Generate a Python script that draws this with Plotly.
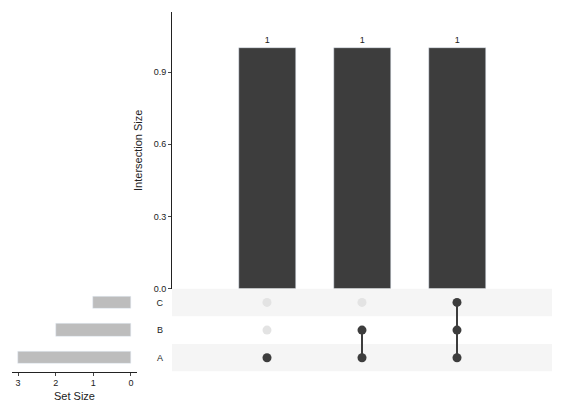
import plotly.graph_objects as go

sets = ["A", "B", "C"]
set_sizes = [3, 2, 1]
intersections = [["A"], ["A", "B"], ["A", "B", "C"]]
inter_sizes = [1, 1, 1]
yticks = [0.0, 0.3, 0.6, 0.9]

W, H = 562, 417
def px(x): return (x - 8) / W
def py(y): return 1 - (y - 6) / H

fig = go.Figure()
cols = list(range(1, len(intersections) + 1))
fig.add_trace(go.Bar(x=cols, y=inter_sizes, marker_color="#3d3d3d", width=0.6,
                     text=[str(v) for v in inter_sizes], textposition="outside",
                     textfont=dict(size=9, color="#222"), cliponaxis=False,
                     xaxis="x", yaxis="y", showlegend=False))
for c, inter in zip(cols, intersections):
    ys = [sets.index(s) for s in sets]
    fig.add_trace(go.Scatter(x=[c]*len(sets), y=ys, mode="markers",
                             marker=dict(size=9, color=["#3d3d3d" if s in inter else "#e3e3e3" for s in sets]),
                             xaxis="x2", yaxis="y2", showlegend=False))
    act = [sets.index(s) for s in inter]
    if len(act) > 1:
        fig.add_trace(go.Scatter(x=[c, c], y=[min(act), max(act)], mode="lines",
                                 line=dict(color="#3d3d3d", width=2),
                                 xaxis="x2", yaxis="y2", showlegend=False))
fig.add_trace(go.Bar(x=set_sizes, y=list(range(len(sets))), orientation="h",
                     marker_color="#bdbdbd", width=0.45, xaxis="x3", yaxis="y3", showlegend=False))

for i in range(len(sets)):
    if i % 2 == 0:
        fig.add_shape(type="rect", xref="x2 domain", x0=0, x1=1, yref="y2", y0=i-0.5, y1=i+0.5,
                      fillcolor="#f5f5f5", line_width=0, layer="below")

fd = [px(172), px(552)]
ax = dict(showgrid=False, zeroline=False)
tf = dict(color="#222", size=9)
fig.update_layout(
    width=W, height=H, margin=dict(l=0, r=0, t=0, b=0), plot_bgcolor="white", paper_bgcolor="white",
    font=dict(family="Liberation Sans", size=9, color="#222"), bargap=0,
    xaxis=dict(domain=fd, range=[0, 4], showticklabels=False, ticks="", **ax),
    yaxis=dict(domain=[py(290), py(10)], range=[0, 1.15], tickvals=yticks, ticktext=["0.0", "0.3", "0.6", "0.9"],
               ticks="outside", ticklen=3, showline=True, linecolor="#222", linewidth=1, tickfont=tf,
               title=dict(text="Intersection Size", font=dict(size=11), standoff=8), anchor="x", **ax),
    xaxis2=dict(domain=fd, range=[0, 4], showticklabels=False, anchor="y2", **ax),
    yaxis2=dict(domain=[py(374), py(290)], range=[-0.5, 2.5], tickvals=[0, 1, 2], ticktext=sets,
                ticks="", anchor="x2", ticklabelstandoff=8, tickfont=tf, **ax),
    xaxis3=dict(domain=[px(12), px(137)], range=[3.16, -0.16], tickvals=[0, 1, 2, 3], ticks="outside", ticklen=3,
                showline=True, linecolor="#222", anchor="y3", tickfont=tf,
                title=dict(text="Set Size", font=dict(size=11), standoff=4), **ax),
    yaxis3=dict(domain=[py(374), py(290)], range=[-0.5, 2.5], showticklabels=False, anchor="x3", **ax),
)
fig.write_html("out.html")
